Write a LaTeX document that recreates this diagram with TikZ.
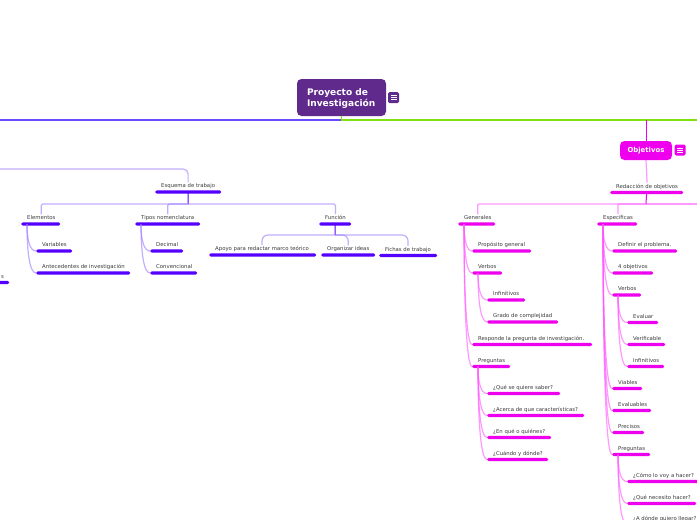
\documentclass[tikz,border=0pt]{standalone}
\usepackage{fontspec}
\usetikzlibrary{calc}
\setmainfont{DejaVu Sans}
\definecolor{purp}{HTML}{5F2A8C}
\definecolor{blu}{HTML}{5500FF}
\definecolor{blul}{HTML}{9A78FF}
\definecolor{blut}{HTML}{6A4BFF}
\definecolor{grn}{HTML}{80E010}
\definecolor{mag}{HTML}{EE00EE}
\definecolor{magl}{HTML}{FF55FF}
\definecolor{txt}{HTML}{3A3A3A}
\tikzset{
  barb/.style={fill=#1,draw=none,rounded corners=1.6pt,minimum height=3.4pt,inner sep=0pt,anchor=west},
  lab/.style={font=\fontsize{5.35pt}{6pt}\selectfont,text=txt,inner sep=1pt,anchor=base west},
  soft/.style={draw=#1,draw opacity=.6,line width=1.2pt},
  hard/.style={draw=#1,line width=1pt},
  trunk/.style={draw=#1,line width=1.5pt},
  mainbox/.style={fill=#1,rounded corners=4.5pt,text=white,font=\bfseries},
  menubox/.style={fill=#1,rounded corners=1.5pt,minimum size=11pt,inner sep=0pt},
  menuline/.style={draw=white,line width=.6pt}
}
% name, x1, x2, y, colour, text
\newcommand{\topicbar}[6]{%
  \pgfmathsetmacro{\barw}{#3-(#2)}%
  \pgfmathsetmacro{\labx}{#2+5}%
  \pgfmathsetmacro{\laby}{#4-4.3}%
  \pgfmathsetmacro{\spx}{#2+6}%
  \node[barb=#5,minimum width=\barw pt] (#1) at (#2,#4) {};
  \node[lab] (#1-t) at (\labx,\laby) {#6};
  \coordinate (#1-s) at (\spx,#4);
}
% parent, child, colour
\newcommand{\branch}[3]{%
  \draw[soft=#3] (#1-s) .. controls ($(#1-s)!.55!(#1-s |- #2.west)$) and ($(#1-s |- #2.west)+(2.5,0)$) .. (#2.west);
}
\newcommand{\menuicon}[4]{%
  \node[menubox=#4] (#1) at (#2,#3) {};
  \draw[menuline] (#2-3,#3-2.2) -- (#2+3,#3-2.2) (#2-3,#3) -- (#2+3,#3) (#2-3,#3+2.2) -- (#2+3,#3+2.2);
}
\begin{document}
\begin{tikzpicture}[x=1pt,y=-1pt]
\useasboundingbox (0,0) rectangle (697,520);
\clip (0,0) rectangle (697,520);
\fill[white] (0,0) rectangle (697,520);

% root and trunk
\coordinate (tL) at (0,120);
\coordinate (tM) at (341,120);
\coordinate (tR) at (697,120);
\coordinate (tO) at (646,120);
\node[mainbox=purp,minimum width=89pt,minimum height=37pt,inner sep=0pt] (root) at (341.5,97.5) {};
\node[text=white,align=left,text width=72pt,inner sep=0pt,anchor=center,font=\bfseries\fontsize{9.05pt}{11.2pt}\selectfont] (roott) at (343,98.5) {Proyecto de\\Investigación};
\menuicon{rootmenu}{393.5}{97.5}{purp}
\draw[trunk=blut] (tL) -- (tM);
\draw[trunk=grn] (tM) -- (tR);
\draw[draw=grn,line width=.8pt] (root.south -| tM) -- (tM);

% Objetivos
\node[mainbox=mag,minimum width=52pt,minimum height=19pt,inner sep=0pt,font=\bfseries\fontsize{6.9pt}{8pt}\selectfont] (obj) at (646,150.5) {Objetivos};
\menuicon{objmenu}{680}{150}{mag}
\draw[hard=mag] (tO) -- (obj.north);

% left branch
\topicbar{esq}{155}{221}{192}{blu}{Esquema de trabajo}
\coordinate (leftEnd) at (0,169);
\coordinate (hE) at (188,204);
\draw[soft=blul,rounded corners=5pt] (leftEnd) -| (esq-t.north);
\draw[hard=blu] (esq.center) -- (hE);

\topicbar{ele}{21}{60}{224}{blu}{Elementos}
\topicbar{tip}{135}{200}{224}{blu}{Tipos nomenclatura}
\topicbar{fun}{319}{351}{224}{blu}{Función}
\draw[soft=blul,rounded corners=1.5pt] (hE) -| (ele-t.north);
\draw[soft=blul,rounded corners=1.5pt] (hE) -| (tip-t.north);
\draw[soft=blul,rounded corners=1.5pt] (hE) -| (fun-t.north);

\topicbar{var}{36}{72}{251}{blu}{Variables}
\topicbar{ant}{36}{130}{273}{blu}{Antecedentes de investigación}
\branch{ele}{var}{blul}
\branch{ele}{ant}{blul}
\topicbar{dec}{150}{183}{251}{blu}{Decimal}
\topicbar{con}{150}{197}{273}{blu}{Convencional}
\branch{tip}{dec}{blul}
\branch{tip}{con}{blul}

\topicbar{apo}{209}{316}{255}{blu}{Apoyo para redactar marco teórico}
\topicbar{org}{321}{375}{255}{blu}{Organizar ideas}
\topicbar{fic}{379}{437}{255.5}{blu}{Fichas de trabajo}
\coordinate (hF) at (335,235);
\draw[hard=blu] (fun.center) -- (hF);
\draw[soft=blul,rounded corners=6pt] (hF) -| (apo-t.north);
\draw[soft=blul,rounded corners=6pt] (hF) -| (org-t.north);
\draw[soft=blul,rounded corners=6pt] (hF) -| (fic-t.north);

\topicbar{cut}{-5}{9}{282.5}{blu}{s}

% right branch
\topicbar{red}{610}{683}{192.5}{mag}{Redacción de objetivos}
\draw[soft=magl] (obj.south) -- (red-t.north);
\coordinate (hR) at (646,204);
\coordinate (hRend) at (697,204);
\draw[hard=mag] (red.center) -- (hR);
\draw[soft=magl] (hR) -- (hRend);

\topicbar{gen}{458}{495}{224}{mag}{Generales}
\topicbar{esp}{597}{637}{224}{mag}{Específicas}
\draw[soft=magl,rounded corners=1pt] (hR) -| (gen-t.north);
\draw[soft=magl,rounded corners=1pt] (hR) -| (esp-t.north);

\topicbar{pro}{472}{531}{251}{mag}{Propósito general}
\topicbar{ver}{472}{502}{273}{mag}{Verbos}
\topicbar{res}{472}{592}{344.5}{mag}{Responde la pregunta de investigación.}
\topicbar{pre}{472}{510}{366.5}{mag}{Preguntas}
\branch{gen}{pro}{magl}
\branch{gen}{ver}{magl}
\branch{gen}{res}{magl}
\branch{gen}{pre}{magl}

\topicbar{inf}{487}{525}{300}{mag}{Infinitivos}
\topicbar{gra}{487}{558}{322}{mag}{Grado de complejidad}
\branch{ver}{inf}{magl}
\branch{ver}{gra}{magl}

\topicbar{que}{487}{560}{393.5}{mag}{¿Qué se quiere saber?}
\topicbar{ace}{487}{584}{415.5}{mag}{¿Acerca de que características?}
\topicbar{enq}{487}{551}{437.5}{mag}{¿En qué o quiénes?}
\topicbar{cua}{487}{548}{459.5}{mag}{¿Cuándo y dónde?}
\branch{pre}{que}{magl}
\branch{pre}{ace}{magl}
\branch{pre}{enq}{magl}
\branch{pre}{cua}{magl}

\topicbar{def}{612}{677}{251}{mag}{Definir el problema.}
\topicbar{cua4}{612}{653}{273}{mag}{4 objetivos}
\topicbar{ver2}{612}{641}{295}{mag}{Verbos}
\topicbar{via}{612}{642}{388.5}{mag}{Viables}
\topicbar{eva}{612}{651}{410.5}{mag}{Evaluables}
\topicbar{prc}{612}{644}{432.5}{mag}{Precisos}
\topicbar{pr2}{612}{650}{454.5}{mag}{Preguntas}
\branch{esp}{def}{magl}
\branch{esp}{cua4}{magl}
\branch{esp}{ver2}{magl}
\branch{esp}{via}{magl}
\branch{esp}{eva}{magl}
\branch{esp}{prc}{magl}
\branch{esp}{pr2}{magl}

\topicbar{evl}{627}{658}{322.5}{mag}{Evaluar}
\topicbar{vrf}{627}{665}{344.5}{mag}{Verificable}
\topicbar{in2}{627}{664}{366.5}{mag}{Infinitivos}
\branch{ver2}{evl}{magl}
\branch{ver2}{vrf}{magl}
\branch{ver2}{in2}{magl}

\topicbar{com}{627}{700}{481.5}{mag}{¿Cómo lo voy a hacer?}
\topicbar{nec}{627}{696}{503.5}{mag}{¿Qué necesito hacer?}
\topicbar{ado}{627}{700}{524.5}{mag}{¿A dónde quiero llegar?}
\branch{pr2}{com}{magl}
\branch{pr2}{nec}{magl}
\branch{pr2}{ado}{magl}
\end{tikzpicture}
\end{document}
